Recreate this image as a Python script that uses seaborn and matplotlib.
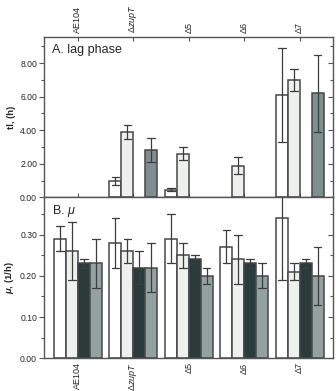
import numpy as np
import pandas as pd
import matplotlib
matplotlib.use("Agg")
import matplotlib.pyplot as plt
from matplotlib.ticker import MultipleLocator, FormatStrFormatter
import seaborn as sns

# strains (x categories) and the four growth conditions (hue)
strains = ["AE104", r"Δ$\it{zupT}$", "Δ5", "Δ6", "Δ7"]
conditions = ["c1", "c2", "c3", "c4"]

# A. lag phase (h), NaN = no bar
lag_c1 = [np.nan, 1.0, 0.47, np.nan, 6.1]
lag_c2 = [np.nan, 3.9, 2.6, 1.9, 7.0]
lag_c3 = [np.nan, np.nan, np.nan, np.nan, np.nan]
lag_c4 = [np.nan, 2.8, np.nan, np.nan, 6.2]
lag_err_c1 = [0, 0.23, 0.11, 0, 2.8]
lag_err_c2 = [0, 0.43, 0.38, 0.5, 0.65]
lag_err_c3 = [0, 0, 0, 0, 0]
lag_err_c4 = [0, 0.72, 0, 0, 2.3]

# B. growth rate mu (1/h)
mu_c1 = [0.29, 0.28, 0.29, 0.27, 0.34]
mu_c2 = [0.26, 0.26, 0.25, 0.24, 0.21]
mu_c3 = [0.23, 0.22, 0.24, 0.23, 0.23]
mu_c4 = [0.23, 0.22, 0.20, 0.20, 0.20]
mu_err_c1 = [0.03, 0.06, 0.06, 0.04, 0.15]
mu_err_c2 = [0.07, 0.03, 0.03, 0.06, 0.02]
mu_err_c3 = [0.01, 0.04, 0.01, 0.01, 0.01]
mu_err_c4 = [0.06, 0.06, 0.02, 0.03, 0.07]


def long_table(vals, errs):
    # two rows per bar (value - err, value + err): mean gives the bar,
    # min/max give the error bar
    rows = []
    for cond, v, e in zip(conditions, vals, errs):
        for s, vi, ei in zip(strains, v, e):
            if np.isnan(vi):
                continue
            rows.append((s, cond, vi - ei))
            rows.append((s, cond, vi + ei))
    return pd.DataFrame(rows, columns=["strain", "cond", "y"])


lag = long_table([lag_c1, lag_c2, lag_c3, lag_c4],
                 [lag_err_c1, lag_err_c2, lag_err_c3, lag_err_c4])
mu = long_table([mu_c1, mu_c2, mu_c3, mu_c4],
                [mu_err_c1, mu_err_c2, mu_err_c3, mu_err_c4])

sns.set_style("ticks")
plt.rcParams["font.family"] = ["Liberation Sans", "DejaVu Sans"]
plt.rcParams["mathtext.fontset"] = "custom"
plt.rcParams["mathtext.rm"] = "Liberation Sans"
plt.rcParams["mathtext.it"] = "Liberation Sans:italic"
plt.rcParams["mathtext.bf"] = "Liberation Sans:bold"
plt.rcParams["mathtext.bfit"] = "Liberation Sans:bold:italic"

spine_col = "#555555"
edge_col = "#474747"
err_col = "#3c3c3c"
pal_top = ["#ffffff", "#edf0ed", "#2a3b3b", "#7f8f8f"]
pal_bot = ["#ffffff", "#edf0ed", "#2a3b3b", "#93a1a0"]

fig = plt.figure(figsize=(3.36, 3.91), dpi=100)
ax1 = fig.add_axes([0.131, 0.495, 0.860, 0.4105])
ax2 = fig.add_axes([0.131, 0.0836, 0.860, 0.4113])

err_func = lambda v: (v.min(), v.max())
common = dict(x="strain", y="y", hue="cond", order=strains, hue_order=conditions,
              estimator="mean", errorbar=err_func, width=0.86, capsize=0.55,
              err_kws={"color": err_col, "linewidth": 0.9},
              edgecolor=edge_col, linewidth=1.1, saturation=1, legend=False)

sns.barplot(data=lag, ax=ax1, palette=pal_top, **common)
sns.barplot(data=mu, ax=ax2, palette=pal_bot, **common)

for ax in (ax1, ax2):
    ax.set_xlim(-0.61, 4.6)
    ax.set_xlabel("")
    for sp in ax.spines.values():
        sp.set_visible(True)
        sp.set_color(spine_col)
        sp.set_linewidth(1.0)
    ax.tick_params(axis="y", which="major", direction="out", length=3.5,
                   width=0.8, color=spine_col, labelsize=6.2, pad=1.5,
                   right=True)
    ax.tick_params(axis="y", which="minor", direction="out", length=2,
                   width=0.8, color=spine_col, right=True)

# top panel
ax1.set_ylim(0, 9.55)
ax1.yaxis.set_major_locator(MultipleLocator(2))
ax1.yaxis.set_minor_locator(MultipleLocator(1))
ax1.yaxis.set_major_formatter(FormatStrFormatter("%.2f"))
ax1.xaxis.tick_top()
ax1.tick_params(axis="x", direction="in", length=3, width=0.8, color=spine_col,
                labelsize=6.5, pad=3, labelrotation=90, bottom=True)
ax1.set_ylabel("tl, (h)", fontsize=6.8, fontweight="bold", labelpad=3)
ax1.text(0.028, 0.955, "A. lag phase", transform=ax1.transAxes,
         fontsize=9, va="top", ha="left")

# bottom panel
ax2.set_ylim(0, 0.39)
ax2.yaxis.set_major_locator(MultipleLocator(0.1))
ax2.yaxis.set_minor_locator(MultipleLocator(0.05))
ax2.yaxis.set_major_formatter(FormatStrFormatter("%.2f"))
ax2.tick_params(axis="x", direction="in", length=2, width=0.8, color=spine_col,
                labelsize=6.5, pad=3, labelrotation=90)
ax2.set_ylabel(r"$\mathbfit{\mu}$, (1/h)", fontsize=6.8, fontweight="bold",
               labelpad=3)
ax2.text(0.028, 0.965, r"B. $\mu$", transform=ax2.transAxes,
         fontsize=9, va="top", ha="left")

# right-side ticks point inward, left-side outward
for ax in (ax1, ax2):
    for t in ax.yaxis.get_major_ticks() + ax.yaxis.get_minor_ticks():
        t.tick2line.set_marker(matplotlib.lines.TICKLEFT)

fig.savefig("out.png", dpi=100)
